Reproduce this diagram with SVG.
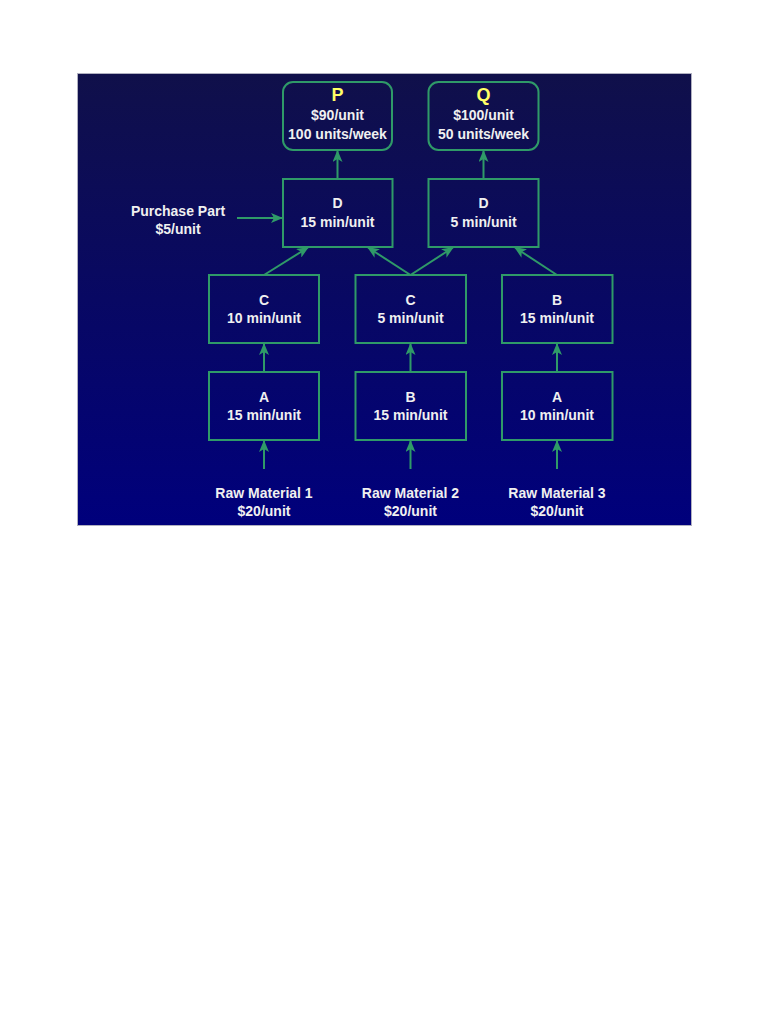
<svg xmlns="http://www.w3.org/2000/svg" width="768" height="1024" viewBox="0 0 768 1024">
<style>
.box{fill:none;stroke:#2f9a68;stroke-width:2}
.t{font-family:"Liberation Sans",Arial,sans-serif;font-weight:bold;font-size:14px;fill:#f0f0f0;text-anchor:middle}
.h{font-family:"Liberation Sans",Arial,sans-serif;font-weight:bold;font-size:18px;fill:#ffff66;text-anchor:middle}
.c{stroke:#2f9a68;stroke-width:2;fill:none;marker-end:url(#ah)}
</style>
<defs>
<linearGradient id="bg" x1="0" y1="0" x2="0" y2="1">
<stop offset="0" stop-color="#10104a"/>
<stop offset="1" stop-color="#00007c"/>
</linearGradient>
<marker id="ah" viewBox="0 0 12 10" markerWidth="12" markerHeight="10" refX="11" refY="5" orient="auto" markerUnits="userSpaceOnUse">
<path d="M0,0 L12,5 L0,10 L3,5 z" fill="#2f9a68"/>
</marker>
</defs>
<rect x="0" y="0" width="768" height="1024" fill="#ffffff"/>
<rect x="77.5" y="73.5" width="614" height="452" fill="url(#bg)" stroke="#b0b0c0" stroke-width="1"/>
<g id="connectors">
<line class="c" x1="337.5" y1="179" x2="337.5" y2="151"/>
<line class="c" x1="483.5" y1="179" x2="483.5" y2="151"/>
<line class="c" x1="237" y1="218" x2="282" y2="218"/>
<line class="c" x1="264" y1="275" x2="308" y2="247.5"/>
<line class="c" x1="410.5" y1="275" x2="368" y2="247.5"/>
<line class="c" x1="410.5" y1="275" x2="453" y2="247.5"/>
<line class="c" x1="557" y1="275" x2="515" y2="247.5"/>
<line class="c" x1="264" y1="372" x2="264" y2="344"/>
<line class="c" x1="410.5" y1="372" x2="410.5" y2="344"/>
<line class="c" x1="557" y1="372" x2="557" y2="344"/>
<line class="c" x1="264" y1="469" x2="264" y2="441"/>
<line class="c" x1="410.5" y1="469" x2="410.5" y2="441"/>
<line class="c" x1="557" y1="469" x2="557" y2="441"/>
</g>
<g id="P">
<rect class="box" x="283" y="82" width="109" height="68" rx="10"/>
<text class="h" x="337.5" y="101">P</text>
<text class="t" x="337.5" y="120">$90/unit</text>
<text class="t" x="337.5" y="139">100 units/week</text>
</g>
<g id="Q">
<rect class="box" x="428.5" y="82" width="110" height="68" rx="10"/>
<text class="h" x="483.5" y="101">Q</text>
<text class="t" x="483.5" y="120">$100/unit</text>
<text class="t" x="483.5" y="139">50 units/week</text>
</g>
<g id="D1">
<rect class="box" x="283" y="179" width="109.5" height="68"/>
<text class="t" x="337.5" y="208">D</text>
<text class="t" x="337.5" y="227">15 min/unit</text>
</g>
<g id="D2">
<rect class="box" x="428.5" y="179" width="110" height="68"/>
<text class="t" x="483.5" y="208">D</text>
<text class="t" x="483.5" y="227">5 min/unit</text>
</g>
<g id="purchase">
<text class="t" x="178" y="216">Purchase Part</text>
<text class="t" x="178" y="234">$5/unit</text>
</g>
<g id="C1">
<rect class="box" x="209" y="275" width="110" height="68"/>
<text class="t" x="264" y="305">C</text>
<text class="t" x="264" y="323">10 min/unit</text>
</g>
<g id="C2">
<rect class="box" x="355.5" y="275" width="110.5" height="68"/>
<text class="t" x="410.5" y="305">C</text>
<text class="t" x="410.5" y="323">5 min/unit</text>
</g>
<g id="B1">
<rect class="box" x="502" y="275" width="110.5" height="68"/>
<text class="t" x="557" y="305">B</text>
<text class="t" x="557" y="323">15 min/unit</text>
</g>
<g id="A1">
<rect class="box" x="209" y="372" width="110" height="68"/>
<text class="t" x="264" y="402">A</text>
<text class="t" x="264" y="420">15 min/unit</text>
</g>
<g id="B2">
<rect class="box" x="355.5" y="372" width="110.5" height="68"/>
<text class="t" x="410.5" y="402">B</text>
<text class="t" x="410.5" y="420">15 min/unit</text>
</g>
<g id="A2">
<rect class="box" x="502" y="372" width="110.5" height="68"/>
<text class="t" x="557" y="402">A</text>
<text class="t" x="557" y="420">10 min/unit</text>
</g>
<g id="raw1">
<text class="t" x="264" y="498">Raw Material 1</text>
<text class="t" x="264" y="516">$20/unit</text>
</g>
<g id="raw2">
<text class="t" x="410.5" y="498">Raw Material 2</text>
<text class="t" x="410.5" y="516">$20/unit</text>
</g>
<g id="raw3">
<text class="t" x="557" y="498">Raw Material 3</text>
<text class="t" x="557" y="516">$20/unit</text>
</g>
</svg>
